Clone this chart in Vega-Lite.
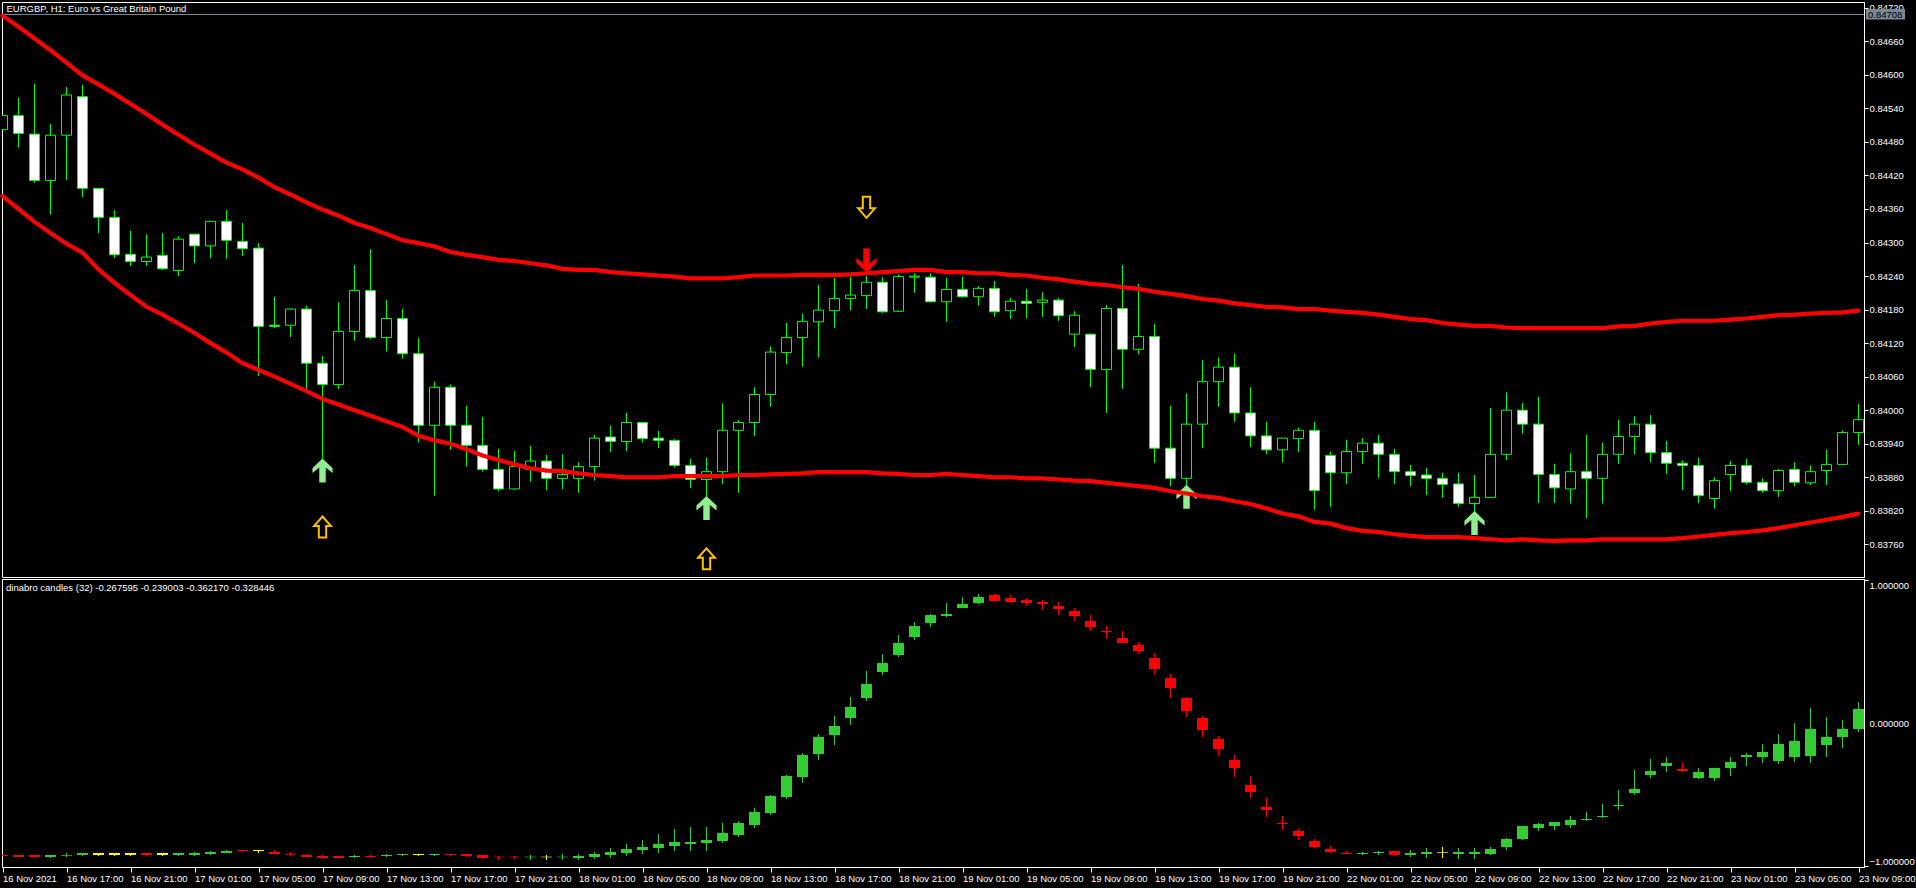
{"$schema":"https://vega.github.io/schema/vega-lite/v6.json","background":"black","padding":{"left":-7,"top":1,"right":6,"bottom":5},"spacing":0,"config":{"view":{"stroke":"white","strokeWidth":1},"font":"Liberation Sans","axis":{"grid":false,"title":null,"labelColor":"white","tickColor":"white","domainColor":"white","labelFont":"Liberation Sans","labelFontSize":9.5,"labelOverlap":false,"labelBound":false,"labelFlush":false}},"datasets":{"bars":[
{"t":"16 Nov 2021","o":0.84502,"h":0.84527,"l":0.84502,"c":0.84527,"ub":0.84706,"lb":0.84383,"io":-0.923,"ih":-0.923,"il":-0.930,"ic":-0.930,"tone":"R"},
{"t":"16 Nov 14:00","o":0.84527,"h":0.84559,"l":0.84470,"c":0.84495,"ub":0.84686,"lb":0.84360,"io":-0.923,"ih":-0.923,"il":-0.937,"ic":-0.937,"tone":"R"},
{"t":"16 Nov 15:00","o":0.84494,"h":0.84584,"l":0.84407,"c":0.84411,"ub":0.84665,"lb":0.84337,"io":-0.923,"ih":-0.923,"il":-0.944,"ic":-0.937,"tone":"R"},
{"t":"16 Nov 16:00","o":0.84411,"h":0.84512,"l":0.84350,"c":0.84492,"ub":0.84644,"lb":0.84317,"io":-0.937,"ih":-0.923,"il":-0.944,"ic":-0.923,"tone":"G"},
{"t":"16 Nov 17:00","o":0.84492,"h":0.84578,"l":0.84412,"c":0.84564,"ub":0.84622,"lb":0.84298,"io":-0.928,"ih":-0.909,"il":-0.937,"ic":-0.923,"tone":"G"},
{"t":"16 Nov 18:00","o":0.84561,"h":0.84582,"l":0.84381,"c":0.84397,"ub":0.84599,"lb":0.84282,"io":-0.923,"ih":-0.909,"il":-0.930,"ic":-0.909,"tone":"G"},
{"t":"16 Nov 19:00","o":0.84397,"h":0.84397,"l":0.84317,"c":0.84345,"ub":0.84583,"lb":0.84252,"io":-0.909,"ih":-0.909,"il":-0.930,"ic":-0.923,"tone":"Y"},
{"t":"16 Nov 20:00","o":0.84345,"h":0.84358,"l":0.84272,"c":0.84278,"ub":0.84566,"lb":0.84228,"io":-0.909,"ih":-0.909,"il":-0.930,"ic":-0.923,"tone":"Y"},
{"t":"16 Nov 21:00","o":0.84279,"h":0.84321,"l":0.84258,"c":0.84266,"ub":0.84548,"lb":0.84206,"io":-0.909,"ih":-0.909,"il":-0.930,"ic":-0.923,"tone":"Y"},
{"t":"16 Nov 22:00","o":0.84266,"h":0.84315,"l":0.84258,"c":0.84274,"ub":0.84530,"lb":0.84185,"io":-0.909,"ih":-0.909,"il":-0.930,"ic":-0.923,"tone":"R"},
{"t":"16 Nov 23:00","o":0.84277,"h":0.84317,"l":0.84251,"c":0.84253,"ub":0.84511,"lb":0.84171,"io":-0.909,"ih":-0.909,"il":-0.930,"ic":-0.923,"tone":"Y"},
{"t":"17 Nov 00:00","o":0.84250,"h":0.84311,"l":0.84240,"c":0.84306,"ub":0.84493,"lb":0.84155,"io":-0.923,"ih":-0.909,"il":-0.930,"ic":-0.909,"tone":"G"},
{"t":"17 Nov 01:00","o":0.84315,"h":0.84315,"l":0.84263,"c":0.84294,"ub":0.84475,"lb":0.84138,"io":-0.923,"ih":-0.902,"il":-0.930,"ic":-0.909,"tone":"G"},
{"t":"17 Nov 02:00","o":0.84294,"h":0.84338,"l":0.84272,"c":0.84338,"ub":0.84459,"lb":0.84120,"io":-0.916,"ih":-0.895,"il":-0.923,"ic":-0.902,"tone":"G"},
{"t":"17 Nov 03:00","o":0.84338,"h":0.84358,"l":0.84271,"c":0.84304,"ub":0.84443,"lb":0.84103,"io":-0.909,"ih":-0.888,"il":-0.909,"ic":-0.895,"tone":"G"},
{"t":"17 Nov 04:00","o":0.84302,"h":0.84335,"l":0.84276,"c":0.84289,"ub":0.84431,"lb":0.84084,"io":-0.888,"ih":-0.888,"il":-0.902,"ic":-0.895,"tone":"R"},
{"t":"17 Nov 05:00","o":0.84290,"h":0.84299,"l":0.84061,"c":0.84150,"ub":0.84416,"lb":0.84072,"io":-0.888,"ih":-0.888,"il":-0.909,"ic":-0.895,"tone":"Y"},
{"t":"17 Nov 06:00","o":0.84152,"h":0.84203,"l":0.84147,"c":0.84150,"ub":0.84399,"lb":0.84060,"io":-0.902,"ih":-0.888,"il":-0.916,"ic":-0.916,"tone":"R"},
{"t":"17 Nov 07:00","o":0.84152,"h":0.84182,"l":0.84131,"c":0.84181,"ub":0.84386,"lb":0.84047,"io":-0.914,"ih":-0.902,"il":-0.930,"ic":-0.921,"tone":"R"},
{"t":"17 Nov 08:00","o":0.84181,"h":0.84187,"l":0.84037,"c":0.84084,"ub":0.84372,"lb":0.84034,"io":-0.923,"ih":-0.916,"il":-0.937,"ic":-0.937,"tone":"R"},
{"t":"17 Nov 09:00","o":0.84084,"h":0.84097,"l":0.83913,"c":0.84046,"ub":0.84359,"lb":0.84020,"io":-0.930,"ih":-0.923,"il":-0.951,"ic":-0.944,"tone":"R"},
{"t":"17 Nov 10:00","o":0.84046,"h":0.84193,"l":0.84038,"c":0.84141,"ub":0.84348,"lb":0.84010,"io":-0.930,"ih":-0.930,"il":-0.944,"ic":-0.944,"tone":"R"},
{"t":"17 Nov 11:00","o":0.84141,"h":0.84260,"l":0.84124,"c":0.84214,"ub":0.84335,"lb":0.84000,"io":-0.937,"ih":-0.923,"il":-0.944,"ic":-0.930,"tone":"G"},
{"t":"17 Nov 12:00","o":0.84214,"h":0.84288,"l":0.84127,"c":0.84130,"ub":0.84326,"lb":0.83990,"io":-0.930,"ih":-0.923,"il":-0.944,"ic":-0.937,"tone":"R"},
{"t":"17 Nov 13:00","o":0.84130,"h":0.84197,"l":0.84105,"c":0.84164,"ub":0.84315,"lb":0.83980,"io":-0.930,"ih":-0.916,"il":-0.937,"ic":-0.923,"tone":"G"},
{"t":"17 Nov 14:00","o":0.84164,"h":0.84181,"l":0.84092,"c":0.84101,"ub":0.84304,"lb":0.83970,"io":-0.923,"ih":-0.916,"il":-0.930,"ic":-0.916,"tone":"G"},
{"t":"17 Nov 15:00","o":0.84101,"h":0.84129,"l":0.83942,"c":0.83973,"ub":0.84299,"lb":0.83954,"io":-0.916,"ih":-0.916,"il":-0.930,"ic":-0.923,"tone":"Y"},
{"t":"17 Nov 16:00","o":0.83973,"h":0.84051,"l":0.83847,"c":0.84041,"ub":0.84293,"lb":0.83946,"io":-0.923,"ih":-0.916,"il":-0.930,"ic":-0.916,"tone":"G"},
{"t":"17 Nov 17:00","o":0.84041,"h":0.84046,"l":0.83929,"c":0.83973,"ub":0.84283,"lb":0.83940,"io":-0.916,"ih":-0.916,"il":-0.930,"ic":-0.923,"tone":"R"},
{"t":"17 Nov 18:00","o":0.83973,"h":0.84008,"l":0.83899,"c":0.83937,"ub":0.84278,"lb":0.83930,"io":-0.916,"ih":-0.916,"il":-0.937,"ic":-0.930,"tone":"R"},
{"t":"17 Nov 19:00","o":0.83937,"h":0.83988,"l":0.83890,"c":0.83894,"ub":0.84274,"lb":0.83919,"io":-0.923,"ih":-0.923,"il":-0.951,"ic":-0.944,"tone":"R"},
{"t":"17 Nov 20:00","o":0.83894,"h":0.83931,"l":0.83855,"c":0.83859,"ub":0.84269,"lb":0.83911,"io":-0.935,"ih":-0.930,"il":-0.958,"ic":-0.939,"tone":"R"},
{"t":"17 Nov 21:00","o":0.83859,"h":0.83927,"l":0.83858,"c":0.83899,"ub":0.84267,"lb":0.83903,"io":-0.935,"ih":-0.930,"il":-0.951,"ic":-0.939,"tone":"R"},
{"t":"17 Nov 22:00","o":0.83894,"h":0.83936,"l":0.83872,"c":0.83909,"ub":0.84263,"lb":0.83896,"io":-0.939,"ih":-0.923,"il":-0.958,"ic":-0.935,"tone":"G"},
{"t":"17 Nov 23:00","o":0.83909,"h":0.83920,"l":0.83857,"c":0.83878,"ub":0.84259,"lb":0.83892,"io":-0.935,"ih":-0.923,"il":-0.958,"ic":-0.939,"tone":"Y"},
{"t":"18 Nov 00:00","o":0.83878,"h":0.83921,"l":0.83859,"c":0.83885,"ub":0.84253,"lb":0.83891,"io":-0.939,"ih":-0.916,"il":-0.958,"ic":-0.935,"tone":"G"},
{"t":"18 Nov 01:00","o":0.83878,"h":0.83907,"l":0.83852,"c":0.83899,"ub":0.84251,"lb":0.83887,"io":-0.944,"ih":-0.916,"il":-0.958,"ic":-0.930,"tone":"G"},
{"t":"18 Nov 02:00","o":0.83899,"h":0.83956,"l":0.83874,"c":0.83950,"ub":0.84251,"lb":0.83884,"io":-0.937,"ih":-0.902,"il":-0.951,"ic":-0.916,"tone":"G"},
{"t":"18 Nov 03:00","o":0.83952,"h":0.83972,"l":0.83925,"c":0.83944,"ub":0.84247,"lb":0.83882,"io":-0.923,"ih":-0.874,"il":-0.944,"ic":-0.902,"tone":"G"},
{"t":"18 Nov 04:00","o":0.83944,"h":0.83995,"l":0.83927,"c":0.83978,"ub":0.84245,"lb":0.83880,"io":-0.909,"ih":-0.846,"il":-0.930,"ic":-0.881,"tone":"G"},
{"t":"18 Nov 05:00","o":0.83978,"h":0.83978,"l":0.83942,"c":0.83949,"ub":0.84243,"lb":0.83880,"io":-0.888,"ih":-0.818,"il":-0.916,"ic":-0.867,"tone":"G"},
{"t":"18 Nov 06:00","o":0.83950,"h":0.83963,"l":0.83932,"c":0.83946,"ub":0.84241,"lb":0.83880,"io":-0.874,"ih":-0.776,"il":-0.909,"ic":-0.846,"tone":"G"},
{"t":"18 Nov 07:00","o":0.83946,"h":0.83948,"l":0.83897,"c":0.83901,"ub":0.84239,"lb":0.83882,"io":-0.860,"ih":-0.741,"il":-0.895,"ic":-0.832,"tone":"G"},
{"t":"18 Nov 08:00","o":0.83901,"h":0.83913,"l":0.83861,"c":0.83876,"ub":0.84236,"lb":0.83882,"io":-0.846,"ih":-0.727,"il":-0.895,"ic":-0.832,"tone":"G"},
{"t":"18 Nov 09:00","o":0.83876,"h":0.83915,"l":0.83845,"c":0.83890,"ub":0.84236,"lb":0.83882,"io":-0.839,"ih":-0.727,"il":-0.895,"ic":-0.818,"tone":"G"},
{"t":"18 Nov 10:00","o":0.83890,"h":0.84012,"l":0.83868,"c":0.83964,"ub":0.84236,"lb":0.83882,"io":-0.825,"ih":-0.699,"il":-0.839,"ic":-0.769,"tone":"G"},
{"t":"18 Nov 11:00","o":0.83964,"h":0.83982,"l":0.83852,"c":0.83978,"ub":0.84238,"lb":0.83884,"io":-0.783,"ih":-0.685,"il":-0.797,"ic":-0.699,"tone":"G"},
{"t":"18 Nov 12:00","o":0.83978,"h":0.84041,"l":0.83954,"c":0.84028,"ub":0.84241,"lb":0.83884,"io":-0.713,"ih":-0.594,"il":-0.734,"ic":-0.622,"tone":"G"},
{"t":"18 Nov 13:00","o":0.84028,"h":0.84114,"l":0.84006,"c":0.84104,"ub":0.84241,"lb":0.83885,"io":-0.629,"ih":-0.503,"il":-0.643,"ic":-0.510,"tone":"G"},
{"t":"18 Nov 14:00","o":0.84103,"h":0.84156,"l":0.84082,"c":0.84130,"ub":0.84241,"lb":0.83886,"io":-0.517,"ih":-0.363,"il":-0.531,"ic":-0.370,"tone":"G"},
{"t":"18 Nov 15:00","o":0.84130,"h":0.84173,"l":0.84078,"c":0.84159,"ub":0.84242,"lb":0.83887,"io":-0.377,"ih":-0.209,"il":-0.419,"ic":-0.223,"tone":"G"},
{"t":"18 Nov 16:00","o":0.84158,"h":0.84224,"l":0.84094,"c":0.84179,"ub":0.84242,"lb":0.83889,"io":-0.216,"ih":-0.076,"il":-0.258,"ic":-0.097,"tone":"G"},
{"t":"18 Nov 17:00","o":0.84178,"h":0.84237,"l":0.84147,"c":0.84200,"ub":0.84242,"lb":0.83889,"io":-0.083,"ih":0.050,"il":-0.153,"ic":-0.020,"tone":"G"},
{"t":"18 Nov 18:00","o":0.84200,"h":0.84239,"l":0.84179,"c":0.84206,"ub":0.84243,"lb":0.83889,"io":0.036,"ih":0.183,"il":-0.013,"ic":0.113,"tone":"G"},
{"t":"18 Nov 19:00","o":0.84205,"h":0.84241,"l":0.84181,"c":0.84229,"ub":0.84245,"lb":0.83889,"io":0.176,"ih":0.365,"il":0.155,"ic":0.274,"tone":"G"},
{"t":"18 Nov 20:00","o":0.84229,"h":0.84238,"l":0.84174,"c":0.84176,"ub":0.84247,"lb":0.83887,"io":0.358,"ih":0.484,"il":0.337,"ic":0.421,"tone":"G"},
{"t":"18 Nov 21:00","o":0.84177,"h":0.84243,"l":0.84176,"c":0.84239,"ub":0.84249,"lb":0.83886,"io":0.477,"ih":0.617,"il":0.463,"ic":0.561,"tone":"G"},
{"t":"18 Nov 22:00","o":0.84238,"h":0.84245,"l":0.84210,"c":0.84240,"ub":0.84251,"lb":0.83884,"io":0.603,"ih":0.708,"il":0.582,"ic":0.680,"tone":"G"},
{"t":"18 Nov 23:00","o":0.84238,"h":0.84245,"l":0.84193,"c":0.84194,"ub":0.84251,"lb":0.83884,"io":0.701,"ih":0.764,"il":0.673,"ic":0.757,"tone":"G"},
{"t":"19 Nov 00:00","o":0.84194,"h":0.84237,"l":0.84158,"c":0.84216,"ub":0.84247,"lb":0.83886,"io":0.750,"ih":0.841,"il":0.743,"ic":0.764,"tone":"G"},
{"t":"19 Nov 01:00","o":0.84216,"h":0.84239,"l":0.84201,"c":0.84203,"ub":0.84247,"lb":0.83884,"io":0.806,"ih":0.883,"il":0.806,"ic":0.834,"tone":"G"},
{"t":"19 Nov 02:00","o":0.84203,"h":0.84222,"l":0.84187,"c":0.84218,"ub":0.84245,"lb":0.83882,"io":0.841,"ih":0.904,"il":0.834,"ic":0.883,"tone":"G"},
{"t":"19 Nov 03:00","o":0.84218,"h":0.84231,"l":0.84167,"c":0.84176,"ub":0.84245,"lb":0.83880,"io":0.897,"ih":0.904,"il":0.855,"ic":0.855,"tone":"R"},
{"t":"19 Nov 04:00","o":0.84178,"h":0.84201,"l":0.84163,"c":0.84195,"ub":0.84242,"lb":0.83880,"io":0.876,"ih":0.897,"il":0.841,"ic":0.848,"tone":"R"},
{"t":"19 Nov 05:00","o":0.84195,"h":0.84217,"l":0.84165,"c":0.84191,"ub":0.84241,"lb":0.83878,"io":0.862,"ih":0.876,"il":0.820,"ic":0.841,"tone":"R"},
{"t":"19 Nov 06:00","o":0.84193,"h":0.84211,"l":0.84167,"c":0.84197,"ub":0.84237,"lb":0.83878,"io":0.848,"ih":0.862,"il":0.792,"ic":0.834,"tone":"R"},
{"t":"19 Nov 07:00","o":0.84197,"h":0.84201,"l":0.84160,"c":0.84169,"ub":0.84234,"lb":0.83876,"io":0.820,"ih":0.848,"il":0.757,"ic":0.799,"tone":"R"},
{"t":"19 Nov 08:00","o":0.84136,"h":0.84177,"l":0.84113,"c":0.84170,"ub":0.84230,"lb":0.83874,"io":0.785,"ih":0.806,"il":0.715,"ic":0.750,"tone":"R"},
{"t":"19 Nov 09:00","o":0.84136,"h":0.84136,"l":0.84041,"c":0.84073,"ub":0.84226,"lb":0.83873,"io":0.715,"ih":0.757,"il":0.645,"ic":0.673,"tone":"R"},
{"t":"19 Nov 10:00","o":0.84073,"h":0.84188,"l":0.83995,"c":0.84182,"ub":0.84224,"lb":0.83870,"io":0.645,"ih":0.680,"il":0.589,"ic":0.638,"tone":"R"},
{"t":"19 Nov 11:00","o":0.84182,"h":0.84260,"l":0.84038,"c":0.84109,"ub":0.84220,"lb":0.83867,"io":0.596,"ih":0.645,"il":0.561,"ic":0.561,"tone":"R"},
{"t":"19 Nov 12:00","o":0.84109,"h":0.84226,"l":0.84100,"c":0.84132,"ub":0.84217,"lb":0.83864,"io":0.547,"ih":0.568,"il":0.484,"ic":0.505,"tone":"R"},
{"t":"19 Nov 13:00","o":0.84132,"h":0.84154,"l":0.83906,"c":0.83932,"ub":0.84212,"lb":0.83861,"io":0.456,"ih":0.491,"il":0.337,"ic":0.379,"tone":"R"},
{"t":"19 Nov 14:00","o":0.83932,"h":0.84008,"l":0.83864,"c":0.83878,"ub":0.84208,"lb":0.83855,"io":0.316,"ih":0.344,"il":0.176,"ic":0.246,"tone":"R"},
{"t":"19 Nov 15:00","o":0.83878,"h":0.84030,"l":0.83849,"c":0.83975,"ub":0.84204,"lb":0.83851,"io":0.176,"ih":0.183,"il":0.043,"ic":0.085,"tone":"R"},
{"t":"19 Nov 16:00","o":0.83975,"h":0.84090,"l":0.83932,"c":0.84051,"ub":0.84199,"lb":0.83846,"io":0.036,"ih":0.050,"il":-0.097,"ic":-0.048,"tone":"R"},
{"t":"19 Nov 17:00","o":0.84051,"h":0.84094,"l":0.84006,"c":0.84077,"ub":0.84196,"lb":0.83843,"io":-0.111,"ih":-0.090,"il":-0.230,"ic":-0.181,"tone":"R"},
{"t":"19 Nov 18:00","o":0.84077,"h":0.84101,"l":0.83979,"c":0.83995,"ub":0.84191,"lb":0.83837,"io":-0.258,"ih":-0.223,"il":-0.377,"ic":-0.314,"tone":"R"},
{"t":"19 Nov 19:00","o":0.83995,"h":0.84041,"l":0.83934,"c":0.83954,"ub":0.84188,"lb":0.83832,"io":-0.433,"ih":-0.370,"il":-0.524,"ic":-0.482,"tone":"R"},
{"t":"19 Nov 20:00","o":0.83954,"h":0.83979,"l":0.83921,"c":0.83929,"ub":0.84185,"lb":0.83824,"io":-0.587,"ih":-0.517,"il":-0.657,"ic":-0.608,"tone":"R"},
{"t":"19 Nov 21:00","o":0.83929,"h":0.83950,"l":0.83907,"c":0.83950,"ub":0.84184,"lb":0.83815,"io":-0.699,"ih":-0.650,"il":-0.748,"ic":-0.706,"tone":"R"},
{"t":"19 Nov 22:00","o":0.83949,"h":0.83969,"l":0.83925,"c":0.83964,"ub":0.84181,"lb":0.83810,"io":-0.755,"ih":-0.741,"il":-0.818,"ic":-0.790,"tone":"R"},
{"t":"19 Nov 23:00","o":0.83964,"h":0.83979,"l":0.83822,"c":0.83856,"ub":0.84181,"lb":0.83800,"io":-0.825,"ih":-0.811,"il":-0.874,"ic":-0.867,"tone":"R"},
{"t":"22 Nov 00:00","o":0.83919,"h":0.83926,"l":0.83827,"c":0.83888,"ub":0.84178,"lb":0.83797,"io":-0.881,"ih":-0.860,"il":-0.909,"ic":-0.902,"tone":"R"},
{"t":"22 Nov 01:00","o":0.83888,"h":0.83947,"l":0.83868,"c":0.83926,"ub":0.84176,"lb":0.83789,"io":-0.909,"ih":-0.895,"il":-0.916,"ic":-0.916,"tone":"R"},
{"t":"22 Nov 02:00","o":0.83926,"h":0.83950,"l":0.83904,"c":0.83941,"ub":0.84174,"lb":0.83784,"io":-0.916,"ih":-0.902,"il":-0.923,"ic":-0.909,"tone":"G"},
{"t":"22 Nov 03:00","o":0.83941,"h":0.83956,"l":0.83879,"c":0.83921,"ub":0.84171,"lb":0.83782,"io":-0.909,"ih":-0.895,"il":-0.923,"ic":-0.902,"tone":"G"},
{"t":"22 Nov 04:00","o":0.83921,"h":0.83931,"l":0.83868,"c":0.83890,"ub":0.84167,"lb":0.83778,"io":-0.895,"ih":-0.895,"il":-0.930,"ic":-0.923,"tone":"R"},
{"t":"22 Nov 05:00","o":0.83890,"h":0.83902,"l":0.83864,"c":0.83883,"ub":0.84163,"lb":0.83775,"io":-0.923,"ih":-0.888,"il":-0.937,"ic":-0.909,"tone":"G"},
{"t":"22 Nov 06:00","o":0.83884,"h":0.83897,"l":0.83848,"c":0.83878,"ub":0.84161,"lb":0.83773,"io":-0.916,"ih":-0.874,"il":-0.944,"ic":-0.902,"tone":"G"},
{"t":"22 Nov 07:00","o":0.83878,"h":0.83888,"l":0.83843,"c":0.83867,"ub":0.84156,"lb":0.83773,"io":-0.902,"ih":-0.867,"il":-0.944,"ic":-0.907,"tone":"Y"},
{"t":"22 Nov 08:00","o":0.83868,"h":0.83888,"l":0.83827,"c":0.83833,"ub":0.84153,"lb":0.83773,"io":-0.916,"ih":-0.874,"il":-0.951,"ic":-0.902,"tone":"G"},
{"t":"22 Nov 09:00","o":0.83833,"h":0.83884,"l":0.83818,"c":0.83844,"ub":0.84151,"lb":0.83771,"io":-0.916,"ih":-0.874,"il":-0.951,"ic":-0.902,"tone":"G"},
{"t":"22 Nov 10:00","o":0.83844,"h":0.84004,"l":0.83844,"c":0.83921,"ub":0.84151,"lb":0.83769,"io":-0.916,"ih":-0.867,"il":-0.923,"ic":-0.881,"tone":"G"},
{"t":"22 Nov 11:00","o":0.83921,"h":0.84032,"l":0.83911,"c":0.84000,"ub":0.84148,"lb":0.83767,"io":-0.867,"ih":-0.804,"il":-0.888,"ic":-0.811,"tone":"G"},
{"t":"22 Nov 12:00","o":0.84000,"h":0.84013,"l":0.83958,"c":0.83975,"ub":0.84147,"lb":0.83769,"io":-0.811,"ih":-0.720,"il":-0.818,"ic":-0.720,"tone":"G"},
{"t":"22 Nov 13:00","o":0.83975,"h":0.84024,"l":0.83834,"c":0.83885,"ub":0.84147,"lb":0.83767,"io":-0.734,"ih":-0.699,"il":-0.755,"ic":-0.706,"tone":"G"},
{"t":"22 Nov 14:00","o":0.83885,"h":0.83904,"l":0.83834,"c":0.83861,"ub":0.84147,"lb":0.83766,"io":-0.720,"ih":-0.692,"il":-0.748,"ic":-0.692,"tone":"G"},
{"t":"22 Nov 15:00","o":0.83859,"h":0.83923,"l":0.83833,"c":0.83890,"ub":0.84147,"lb":0.83767,"io":-0.713,"ih":-0.650,"il":-0.734,"ic":-0.678,"tone":"G"},
{"t":"22 Nov 16:00","o":0.83890,"h":0.83956,"l":0.83807,"c":0.83878,"ub":0.84147,"lb":0.83767,"io":-0.678,"ih":-0.622,"il":-0.685,"ic":-0.671,"tone":"G"},
{"t":"22 Nov 17:00","o":0.83878,"h":0.83942,"l":0.83833,"c":0.83921,"ub":0.84147,"lb":0.83769,"io":-0.657,"ih":-0.566,"il":-0.664,"ic":-0.650,"tone":"G"},
{"t":"22 Nov 18:00","o":0.83921,"h":0.83983,"l":0.83904,"c":0.83953,"ub":0.84150,"lb":0.83769,"io":-0.580,"ih":-0.468,"il":-0.608,"ic":-0.573,"tone":"G"},
{"t":"22 Nov 19:00","o":0.83953,"h":0.83989,"l":0.83921,"c":0.83975,"ub":0.84151,"lb":0.83769,"io":-0.489,"ih":-0.328,"il":-0.503,"ic":-0.461,"tone":"G"},
{"t":"22 Nov 20:00","o":0.83975,"h":0.83991,"l":0.83907,"c":0.83924,"ub":0.84155,"lb":0.83769,"io":-0.363,"ih":-0.251,"il":-0.384,"ic":-0.335,"tone":"G"},
{"t":"22 Nov 21:00","o":0.83924,"h":0.83945,"l":0.83886,"c":0.83905,"ub":0.84158,"lb":0.83769,"io":-0.300,"ih":-0.237,"il":-0.342,"ic":-0.279,"tone":"G"},
{"t":"22 Nov 22:00","o":0.83905,"h":0.83910,"l":0.83857,"c":0.83901,"ub":0.84160,"lb":0.83771,"io":-0.321,"ih":-0.279,"il":-0.342,"ic":-0.335,"tone":"R"},
{"t":"22 Nov 23:00","o":0.83901,"h":0.83915,"l":0.83834,"c":0.83847,"ub":0.84160,"lb":0.83774,"io":-0.384,"ih":-0.314,"il":-0.391,"ic":-0.342,"tone":"G"},
{"t":"23 Nov 00:00","o":0.83842,"h":0.83880,"l":0.83824,"c":0.83874,"ub":0.84160,"lb":0.83777,"io":-0.384,"ih":-0.314,"il":-0.405,"ic":-0.314,"tone":"G"},
{"t":"23 Nov 01:00","o":0.83885,"h":0.83909,"l":0.83855,"c":0.83901,"ub":0.84162,"lb":0.83780,"io":-0.314,"ih":-0.237,"il":-0.370,"ic":-0.272,"tone":"G"},
{"t":"23 Nov 02:00","o":0.83901,"h":0.83913,"l":0.83867,"c":0.83871,"ub":0.84164,"lb":0.83782,"io":-0.237,"ih":-0.209,"il":-0.300,"ic":-0.223,"tone":"G"},
{"t":"23 Nov 03:00","o":0.83871,"h":0.83878,"l":0.83852,"c":0.83856,"ub":0.84167,"lb":0.83785,"io":-0.237,"ih":-0.146,"il":-0.279,"ic":-0.202,"tone":"G"},
{"t":"23 Nov 04:00","o":0.83856,"h":0.83895,"l":0.83845,"c":0.83892,"ub":0.84170,"lb":0.83789,"io":-0.265,"ih":-0.076,"il":-0.286,"ic":-0.146,"tone":"G"},
{"t":"23 Nov 05:00","o":0.83894,"h":0.83907,"l":0.83864,"c":0.83871,"ub":0.84171,"lb":0.83794,"io":-0.237,"ih":0.000,"il":-0.272,"ic":-0.125,"tone":"G"},
{"t":"23 Nov 06:00","o":0.83870,"h":0.83901,"l":0.83866,"c":0.83890,"ub":0.84173,"lb":0.83799,"io":-0.230,"ih":0.106,"il":-0.279,"ic":-0.041,"tone":"G"},
{"t":"23 Nov 07:00","o":0.83892,"h":0.83929,"l":0.83866,"c":0.83903,"ub":0.84174,"lb":0.83804,"io":-0.153,"ih":0.043,"il":-0.237,"ic":-0.097,"tone":"G"},
{"t":"23 Nov 08:00","o":0.83903,"h":0.83964,"l":0.83903,"c":0.83960,"ub":0.84175,"lb":0.83809,"io":-0.097,"ih":0.022,"il":-0.174,"ic":-0.041,"tone":"G"},
{"t":"23 Nov 09:00","o":0.83960,"h":0.84011,"l":0.83938,"c":0.83983,"ub":0.84178,"lb":0.83815,"io":-0.041,"ih":0.148,"il":-0.062,"ic":0.099,"tone":"G"}
],"signals":[
{"t":"17 Nov 09:00","y":0.83892,"kind":"buy"},
{"t":"18 Nov 09:00","y":0.83825,"kind":"buy"},
{"t":"19 Nov 15:00","y":0.83845,"kind":"buy"},
{"t":"22 Nov 09:00","y":0.83798,"kind":"buy"},
{"t":"18 Nov 19:00","y":0.84268,"kind":"sell"},
{"t":"17 Nov 09:00","y":0.83791,"kind":"hollowUp"},
{"t":"18 Nov 09:00","y":0.83734,"kind":"hollowUp"},
{"t":"18 Nov 19:00","y":0.84363,"kind":"hollowDown"}
]},
"vconcat":[
{"width":1862,"height":575,"encoding":{"x":{"field":"t","type":"ordinal","sort":null,"axis":null,"scale":{"type":"point","padding":0,"range":[0.5,1856.5],"domain":["16 Nov 2021","16 Nov 14:00","16 Nov 15:00","16 Nov 16:00","16 Nov 17:00","16 Nov 18:00","16 Nov 19:00","16 Nov 20:00","16 Nov 21:00","16 Nov 22:00","16 Nov 23:00","17 Nov 00:00","17 Nov 01:00","17 Nov 02:00","17 Nov 03:00","17 Nov 04:00","17 Nov 05:00","17 Nov 06:00","17 Nov 07:00","17 Nov 08:00","17 Nov 09:00","17 Nov 10:00","17 Nov 11:00","17 Nov 12:00","17 Nov 13:00","17 Nov 14:00","17 Nov 15:00","17 Nov 16:00","17 Nov 17:00","17 Nov 18:00","17 Nov 19:00","17 Nov 20:00","17 Nov 21:00","17 Nov 22:00","17 Nov 23:00","18 Nov 00:00","18 Nov 01:00","18 Nov 02:00","18 Nov 03:00","18 Nov 04:00","18 Nov 05:00","18 Nov 06:00","18 Nov 07:00","18 Nov 08:00","18 Nov 09:00","18 Nov 10:00","18 Nov 11:00","18 Nov 12:00","18 Nov 13:00","18 Nov 14:00","18 Nov 15:00","18 Nov 16:00","18 Nov 17:00","18 Nov 18:00","18 Nov 19:00","18 Nov 20:00","18 Nov 21:00","18 Nov 22:00","18 Nov 23:00","19 Nov 00:00","19 Nov 01:00","19 Nov 02:00","19 Nov 03:00","19 Nov 04:00","19 Nov 05:00","19 Nov 06:00","19 Nov 07:00","19 Nov 08:00","19 Nov 09:00","19 Nov 10:00","19 Nov 11:00","19 Nov 12:00","19 Nov 13:00","19 Nov 14:00","19 Nov 15:00","19 Nov 16:00","19 Nov 17:00","19 Nov 18:00","19 Nov 19:00","19 Nov 20:00","19 Nov 21:00","19 Nov 22:00","19 Nov 23:00","22 Nov 00:00","22 Nov 01:00","22 Nov 02:00","22 Nov 03:00","22 Nov 04:00","22 Nov 05:00","22 Nov 06:00","22 Nov 07:00","22 Nov 08:00","22 Nov 09:00","22 Nov 10:00","22 Nov 11:00","22 Nov 12:00","22 Nov 13:00","22 Nov 14:00","22 Nov 15:00","22 Nov 16:00","22 Nov 17:00","22 Nov 18:00","22 Nov 19:00","22 Nov 20:00","22 Nov 21:00","22 Nov 22:00","22 Nov 23:00","23 Nov 00:00","23 Nov 01:00","23 Nov 02:00","23 Nov 03:00","23 Nov 04:00","23 Nov 05:00","23 Nov 06:00","23 Nov 07:00","23 Nov 08:00","23 Nov 09:00"]}}},
"layer":[
{"data":{"values":[{"price":0.84708}]},"mark":{"type":"rule","color":"#778899","strokeWidth":1},"encoding":{"x":{"value":0},"x2":{"value":1862},"y":{"field":"price","type":"quantitative","title":null,"scale":{"domain":[0.837015,0.847304],"nice":false,"zero":false},"axis":{"orient":"right","values":[0.8472,0.8466,0.846,0.8454,0.8448,0.8442,0.8436,0.843,0.8424,0.8418,0.8412,0.8406,0.84,0.8394,0.8388,0.8382,0.8376],"tickCount":30,"format":".5f","tickSize":4,"labelPadding":1,"title":null,"labelOverlap":false}}}},
{"data":{"name":"bars"},"mark":{"type":"rule","color":"#00FF00","strokeWidth":1,"clip":true},"encoding":{"y":{"field":"h","type":"quantitative","scale":{"domain":[0.837015,0.847304],"nice":false,"zero":false}},"y2":{"field":"l"}}},
{"data":{"name":"bars"},"mark":{"type":"bar","size":10,"stroke":"#00FF00","strokeWidth":1,"clip":true},"encoding":{"y":{"field":"o","type":"quantitative","scale":{"domain":[0.837015,0.847304],"nice":false,"zero":false}},"y2":{"field":"c"},"color":{"condition":{"test":"datum.c<datum.o","value":"white"},"value":"black"}}},
{"data":{"name":"signals"},"transform":[{"filter":"datum.kind=='buy'"}],"mark":{"type":"point","filled":true,"color":"#90EE90","opacity":1,"size":576,"shape":"M0,-1 L0.84,-0.2 L0.84,0.2 L0.27,-0.25 L0.27,1 L-0.27,1 L-0.27,-0.25 L-0.84,0.2 L-0.84,-0.2 Z"},"encoding":{"y":{"field":"y","type":"quantitative","scale":{"domain":[0.837015,0.847304],"nice":false,"zero":false}}}},
{"data":{"name":"signals"},"transform":[{"filter":"datum.kind=='sell'"}],"mark":{"type":"point","filled":true,"color":"#FF0000","opacity":1,"size":576,"shape":"M0,1 L0.84,0.2 L0.84,-0.2 L0.27,0.25 L0.27,-1 L-0.27,-1 L-0.27,0.25 L-0.84,-0.2 L-0.84,0.2 Z"},"encoding":{"y":{"field":"y","type":"quantitative","scale":{"domain":[0.837015,0.847304],"nice":false,"zero":false}}}},
{"data":{"name":"signals"},"transform":[{"filter":"datum.kind=='hollowUp'"}],"mark":{"type":"point","filled":false,"stroke":"#FFC000","opacity":1,"strokeWidth":2,"size":441,"shape":"M0,-1 L0.8,-0.1 L0.35,-0.1 L0.35,1 L-0.35,1 L-0.35,-0.1 L-0.8,-0.1 Z"},"encoding":{"y":{"field":"y","type":"quantitative","scale":{"domain":[0.837015,0.847304],"nice":false,"zero":false}}}},
{"data":{"name":"signals"},"transform":[{"filter":"datum.kind=='hollowDown'"}],"mark":{"type":"point","filled":false,"stroke":"#FFC000","opacity":1,"strokeWidth":2,"size":441,"shape":"M0,1 L0.8,0.1 L0.35,0.1 L0.35,-1 L-0.35,-1 L-0.35,0.1 L-0.8,0.1 Z"},"encoding":{"y":{"field":"y","type":"quantitative","scale":{"domain":[0.837015,0.847304],"nice":false,"zero":false}}}},
{"data":{"name":"bars"},"mark":{"type":"line","color":"#FF0000","strokeWidth":4.2,"strokeCap":"round"},"encoding":{"y":{"field":"ub","type":"quantitative","scale":{"domain":[0.837015,0.847304],"nice":false,"zero":false}}}},
{"data":{"name":"bars"},"mark":{"type":"line","color":"#FF0000","strokeWidth":4.2,"strokeCap":"round"},"encoding":{"y":{"field":"lb","type":"quantitative","scale":{"domain":[0.837015,0.847304],"nice":false,"zero":false}}}},
{"data":{"values":[{"t":"23 Nov 09:00","top":0.84718,"bottom":0.84699}]},"mark":{"type":"rect","color":"#778899","xOffset":7.5,"x2Offset":46.5},"encoding":{"x2":{"field":"t"},"y":{"field":"top","type":"quantitative","scale":{"domain":[0.837015,0.847304],"nice":false,"zero":false}},"y2":{"field":"bottom"}}},
{"data":{"values":[{"t":"23 Nov 09:00","price":0.84708,"label":"0.84708"}]},"mark":{"type":"text","color":"black","align":"left","baseline":"middle","dx":9.5,"font":"Liberation Sans","fontSize":9.5},"encoding":{"y":{"field":"price","type":"quantitative","scale":{"domain":[0.837015,0.847304],"nice":false,"zero":false}},"text":{"field":"label"}}},
{"data":{"values":[{"t":"16 Nov 2021","price":0.84717,"label":"EURGBP, H1:  Euro vs Great Britain Pound"}]},"mark":{"type":"text","color":"white","align":"left","baseline":"middle","dx":4,"font":"Liberation Sans","fontSize":9.5},"encoding":{"y":{"field":"price","type":"quantitative","scale":{"domain":[0.837015,0.847304],"nice":false,"zero":false}},"text":{"field":"label"}}}
]},
{"width":1862,"height":288,"encoding":{"x":{"field":"t","type":"ordinal","sort":null,"scale":{"type":"point","padding":0,"range":[0.5,1856.5],"domain":["16 Nov 2021","16 Nov 14:00","16 Nov 15:00","16 Nov 16:00","16 Nov 17:00","16 Nov 18:00","16 Nov 19:00","16 Nov 20:00","16 Nov 21:00","16 Nov 22:00","16 Nov 23:00","17 Nov 00:00","17 Nov 01:00","17 Nov 02:00","17 Nov 03:00","17 Nov 04:00","17 Nov 05:00","17 Nov 06:00","17 Nov 07:00","17 Nov 08:00","17 Nov 09:00","17 Nov 10:00","17 Nov 11:00","17 Nov 12:00","17 Nov 13:00","17 Nov 14:00","17 Nov 15:00","17 Nov 16:00","17 Nov 17:00","17 Nov 18:00","17 Nov 19:00","17 Nov 20:00","17 Nov 21:00","17 Nov 22:00","17 Nov 23:00","18 Nov 00:00","18 Nov 01:00","18 Nov 02:00","18 Nov 03:00","18 Nov 04:00","18 Nov 05:00","18 Nov 06:00","18 Nov 07:00","18 Nov 08:00","18 Nov 09:00","18 Nov 10:00","18 Nov 11:00","18 Nov 12:00","18 Nov 13:00","18 Nov 14:00","18 Nov 15:00","18 Nov 16:00","18 Nov 17:00","18 Nov 18:00","18 Nov 19:00","18 Nov 20:00","18 Nov 21:00","18 Nov 22:00","18 Nov 23:00","19 Nov 00:00","19 Nov 01:00","19 Nov 02:00","19 Nov 03:00","19 Nov 04:00","19 Nov 05:00","19 Nov 06:00","19 Nov 07:00","19 Nov 08:00","19 Nov 09:00","19 Nov 10:00","19 Nov 11:00","19 Nov 12:00","19 Nov 13:00","19 Nov 14:00","19 Nov 15:00","19 Nov 16:00","19 Nov 17:00","19 Nov 18:00","19 Nov 19:00","19 Nov 20:00","19 Nov 21:00","19 Nov 22:00","19 Nov 23:00","22 Nov 00:00","22 Nov 01:00","22 Nov 02:00","22 Nov 03:00","22 Nov 04:00","22 Nov 05:00","22 Nov 06:00","22 Nov 07:00","22 Nov 08:00","22 Nov 09:00","22 Nov 10:00","22 Nov 11:00","22 Nov 12:00","22 Nov 13:00","22 Nov 14:00","22 Nov 15:00","22 Nov 16:00","22 Nov 17:00","22 Nov 18:00","22 Nov 19:00","22 Nov 20:00","22 Nov 21:00","22 Nov 22:00","22 Nov 23:00","23 Nov 00:00","23 Nov 01:00","23 Nov 02:00","23 Nov 03:00","23 Nov 04:00","23 Nov 05:00","23 Nov 06:00","23 Nov 07:00","23 Nov 08:00","23 Nov 09:00"]},"axis":{"values":["16 Nov 2021","16 Nov 17:00","16 Nov 21:00","17 Nov 01:00","17 Nov 05:00","17 Nov 09:00","17 Nov 13:00","17 Nov 17:00","17 Nov 21:00","18 Nov 01:00","18 Nov 05:00","18 Nov 09:00","18 Nov 13:00","18 Nov 17:00","18 Nov 21:00","19 Nov 01:00","19 Nov 05:00","19 Nov 09:00","19 Nov 13:00","19 Nov 17:00","19 Nov 21:00","22 Nov 01:00","22 Nov 05:00","22 Nov 09:00","22 Nov 13:00","22 Nov 17:00","22 Nov 21:00","23 Nov 01:00","23 Nov 05:00","23 Nov 09:00"],"labelAngle":0,"labelAlign":"left","labelBaseline":"top","tickSize":5,"labelPadding":1,"title":null,"labelOverlap":false}}},
"layer":[
{"data":{"name":"bars"},"mark":{"type":"rule","strokeWidth":1,"clip":true},"encoding":{"y":{"field":"ih","type":"quantitative","title":null,"scale":{"domain":[-1.007,1.0093],"nice":false,"zero":false},"axis":{"orient":"right","values":[1,0,-1],"format":".6f","tickSize":4,"labelPadding":1,"title":null,"labelOverlap":false,"tickOpacity":{"condition":{"test":"datum.value==0","value":0},"value":1},"labelBaseline":{"condition":[{"test":"datum.value==1","value":"top"},{"test":"datum.value==-1","value":"bottom"}],"value":"middle"}}},"y2":{"field":"il"},"color":{"field":"tone","type":"nominal","legend":null,"scale":{"domain":["G","R","Y"],"range":["#32CD32","#FF0000","#FFFF00"]}}}},
{"data":{"name":"bars"},"mark":{"type":"bar","size":11,"clip":true},"encoding":{"y":{"field":"io","type":"quantitative","scale":{"domain":[-1.007,1.0093],"nice":false,"zero":false}},"y2":{"field":"ic"},"color":{"field":"tone","type":"nominal","legend":null,"scale":{"domain":["G","R","Y"],"range":["#32CD32","#FF0000","#FFFF00"]}}}},
{"data":{"values":[{"t":"16 Nov 2021","v":0.944,"label":"dinabro candles (32) -0.267595 -0.239003 -0.362170 -0.328446"}]},"mark":{"type":"text","color":"white","align":"left","baseline":"middle","dx":3.5,"font":"Liberation Sans","fontSize":9.5},"encoding":{"y":{"field":"v","type":"quantitative","scale":{"domain":[-1.007,1.0093],"nice":false,"zero":false}},"text":{"field":"label"}}}
]}
]}
